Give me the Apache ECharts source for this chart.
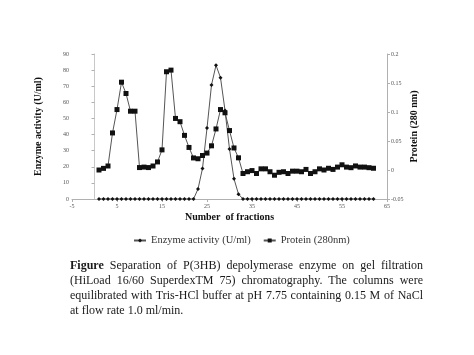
<!DOCTYPE html>
<html><head><meta charset="utf-8">
<script src="https://cdn.jsdelivr.net/npm/echarts@6/dist/echarts.min.js"></script>
<style>
html,body{margin:0;padding:0;background:#fff;}
#c{width:474px;height:355px;position:absolute;left:0;top:0;}
#cap{position:absolute;left:70px;top:258px;width:353px;font-family:"Liberation Serif","Times New Roman",serif;font-size:12px;line-height:15px;text-align:justify;color:#1a1a1a;}
</style></head>
<body>
<div id="c"></div>
<div id="cap"><b>Figure</b> Separation of P(3HB) depolymerase enzyme on gel filtration (HiLoad 16/60 SuperdexTM 75) chromatography. The columns were equilibrated with Tris-HCl buffer at pH 7.75 containing 0.15 M of NaCl at flow rate 1.0 ml/min.</div>
<script>
const fractions = [];
for (let i = 1; i <= 62; i++) fractions.push(i);
const enzymeActivity = [0,0,0,0,0,0,0,0,0,0, 0,0,0,0,0,0,0,0,0,0, 0,0,6.2,19,44,70.8,83,75.3,55,31, 12.5,3,0,0,0,0,0,0,0,0, 0,0,0,0,0,0,0,0,0,0, 0,0,0,0,0,0,0,0,0,0, 0,0];
const protein280 = [0.0,0.0028,0.0069,0.0639,0.1042,0.1514,0.1319,0.1014,0.1014,0.0042,
 0.005,0.0042,0.0069,0.0139,0.0347,0.1694,0.1722,0.0889,0.0833,0.0597,
 0.0389,0.0208,0.0194,0.025,0.0292,0.0417,0.0708,0.1042,0.0986,0.068,
 0.038,0.021,-0.006,-0.003,-0.001,-0.006,0.002,0.002,-0.003,-0.009,
 -0.004,-0.003,-0.006,-0.002,-0.002,-0.003,0.001,-0.006,-0.003,0.002,
 0.0,0.003,0.001,0.005,0.009,0.005,0.004,0.007,0.005,0.005,
 0.004,0.003];
const seriesNames = ['Enzyme activity (U/ml)', 'Protein (280nm)'];

const serif = '"Liberation Serif","Times New Roman",serif';
const chart = echarts.init(document.getElementById('c'), null, {renderer:'canvas'});
const lbl = {fontFamily: serif, fontSize: 6, color: '#555'};
chart.setOption({
  backgroundColor: '#fff',
  animation: false,
  grid: {left: 72, right: 87, top: 54, bottom: 156, containLabel: false},
  legend: {
    left: 133, top: 235, padding: 0, itemWidth: 12, itemHeight: 5, itemGap: 12,
    textStyle: {fontFamily: serif, fontSize: 10.5, color: '#333'},
    data: seriesNames
  },
  xAxis: {
    type: 'value', min: -5, max: 65, interval: 10,
    name: 'Number  of fractions', nameLocation: 'middle', nameGap: 13, nameMoveOverlap: false,
    nameTextStyle: {fontFamily: serif, fontSize: 10, fontWeight: 'bold', color: '#111'},
    axisLine: {onZero: true, lineStyle: {color: '#b0b0b0', width: 1}},
    axisTick: {show: true, length: 3, lineStyle: {color: '#b0b0b0'}},
    splitLine: {show: false},
    axisLabel: Object.assign({margin: 4}, lbl)
  },
  yAxis: [{
    type: 'value', min: 0, max: 90, interval: 10, position: 'left',
    name: 'Enzyme activity (U/ml)', nameLocation: 'middle', nameGap: 29, nameRotate: 90, nameMoveOverlap: false,
    nameTextStyle: {fontFamily: serif, fontSize: 10, fontWeight: 'bold', color: '#111'},
    axisLine: {show: true, onZero: true, lineStyle: {color: '#c8c8c8', width: 1}},
    axisTick: {show: true, length: 3, lineStyle: {color: '#b0b0b0'}},
    splitLine: {show: false},
    axisLabel: Object.assign({margin: 3}, lbl)
  }, {
    type: 'value', min: -0.05, max: 0.2, interval: 0.05, position: 'right',
    name: 'Protein (280 nm)', nameLocation: 'middle', nameGap: 22, nameRotate: 90, nameMoveOverlap: false,
    nameTextStyle: {fontFamily: serif, fontSize: 10, fontWeight: 'bold', color: '#111'},
    axisLine: {show: true, onZero: false, lineStyle: {color: '#b0b0b0', width: 1}},
    axisTick: {show: true, length: 3, lineStyle: {color: '#b0b0b0'}},
    splitLine: {show: false},
    axisLabel: Object.assign({margin: 4, formatter: v => String(Math.round(v * 100) / 100)}, lbl)
  }],
  series: [{
    name: seriesNames[0], type: 'line', yAxisIndex: 0,
    data: fractions.map((f, i) => [f, enzymeActivity[i]]),
    symbol: 'diamond', symbolSize: 4, showSymbol: true,
    lineStyle: {color: '#555', width: 1},
    itemStyle: {color: '#111'}
  }, {
    name: seriesNames[1], type: 'line', yAxisIndex: 1,
    data: fractions.map((f, i) => [f, protein280[i]]),
    symbol: 'rect', symbolSize: 5, showSymbol: true,
    lineStyle: {color: '#555', width: 1},
    itemStyle: {color: '#111'}
  }]
});
</script>
</body></html>
